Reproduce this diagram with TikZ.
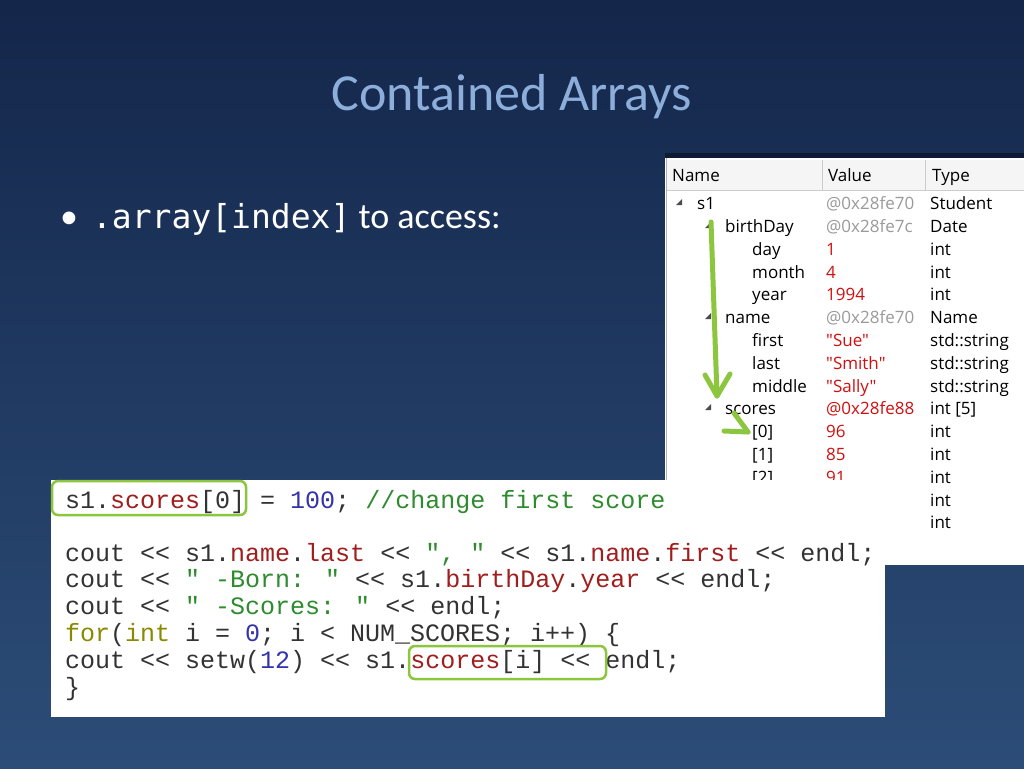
\documentclass[tikz,border=0pt]{standalone}
\usepackage{fontspec}
\setmainfont{Carlito}
\newfontfamily\dbgfont{Open Sans}
\newfontfamily\codefont{Liberation Mono}
\newfontfamily\consfont{DejaVu Sans Mono}
\definecolor{bgtop}{HTML}{14264A}
\definecolor{bgbot}{HTML}{2C4D78}
\definecolor{titleblue}{HTML}{8DAEDB}
\definecolor{hl}{HTML}{8CC63F}
\definecolor{mem}{HTML}{A01E1E}
\definecolor{num}{HTML}{3333AA}
\definecolor{str}{HTML}{2E8B2E}
\definecolor{kw}{HTML}{8A8A00}
\definecolor{ctext}{HTML}{333333}
\definecolor{addr}{HTML}{9A9A9A}
\definecolor{val}{HTML}{D01010}
\begin{document}
\begin{tikzpicture}[x=1pt,y=-1pt,
  dbg/.style={anchor=base west,inner sep=0,font=\dbgfont\fontsize{17}{17}\selectfont,text=black},
  code/.style={anchor=base west,inner sep=0,font=\codefont\fontsize{25}{25}\selectfont,text=ctext},
  hlbox/.style={draw=hl,line width=2.5pt,rounded corners=6pt},
  garrow/.style={draw=hl,line width=5pt,line cap=round,line join=round}]
\useasboundingbox (0,0) rectangle (1024,768);
\shade[top color=bgtop,bottom color=bgbot] (0,0) rectangle (1024,768);
\node[text=titleblue,font=\fontsize{52}{52}\selectfont] (title) at (512,97) {Contained Arrays};
\node[anchor=base west,text=white,font=\fontsize{36}{36}\selectfont,inner sep=0] (bullet) at (60,228) {\textbullet\hspace{14pt}{\consfont\fontsize{33}{33}\selectfont .array[index]} to access:};
% debugger panel
\fill[white] (665,153) rectangle (1024,565);
\fill[bgtop!70!black] (665,153) rectangle (1024,158);
\fill[gray!8] (667,160) rectangle (1024,190);
\draw[gray!40] (822,160) -- (822,190) (925,160) -- (925,190) (667,190) -- (1024,190);
\draw[gray!60] (666,158) -- (666,565);
\node[dbg] (hn) at (672,181) {Name};
\node[dbg] (hv) at (828,181) {Value};
\node[dbg] (ht) at (932,181) {Type};
\foreach \y/\tri/\n/\nx/\v/\vc/\t in {
  209/676/s1/697/@0x28fe70/addr/Student,
  232/705/birthDay/725/@0x28fe7c/addr/Date,
  255/0/day/752/1/val/int,
  278/0/month/752/4/val/int,
  300/0/year/752/1994/val/int,
  323/705/name/725/@0x28fe70/addr/Name,
  346/0/first/752/"Sue"/val/std::string,
  369/0/last/752/"Smith"/val/std::string,
  392/0/middle/752/"Sally"/val/std::string,
  414/705/scores/725/@0x28fe88/val/int [5],
  437/0/[0]/752/96/val/int,
  460/0/[1]/752/85/val/int,
  483/0/[2]/752/91/val/int,
  506/0//752//val/int,
  528/0//752//val/int}{
  \ifnum\tri>0 \fill[black!70] (\tri,\y-4) -- (\tri+6,\y-10) -- (\tri+6,\y-4) -- cycle; \fi
  \node[dbg] at (\nx,\y) {\n};
  \node[dbg,text=\vc] at (826,\y) {\v};
  \node[dbg] at (930,\y) {\t};
}
% green arrows
\coordinate (a1s) at (711,222);
\coordinate (a1e) at (717,396);
\draw[garrow] (a1s) -- (a1e);
\draw[garrow] (705,375) -- (a1e) -- (730,374);
\coordinate (a2s) at (724,431);
\coordinate (a2e) at (748,432);
\draw[garrow] (a2s) -- (a2e);
\draw[garrow] (734,413) -- (a2e);
% code box
\fill[white] (51,480) rectangle (885,717);
\node[code] (l1) at (65,508) {s1.\textcolor{mem}{scores}[0] = \textcolor{num}{100}; \textcolor{str}{//change first score}};
\node[code] (l2) at (65,561) {cout << s1.\textcolor{mem}{name}.\textcolor{mem}{last} << \textcolor{str}{", "} << s1.\textcolor{mem}{name}.\textcolor{mem}{first} << endl;};
\node[code] (l3) at (65,587) {cout << \textcolor{str}{"   -Born: "} << s1.\textcolor{mem}{birthDay}.\textcolor{mem}{year} << endl;};
\node[code] (l4) at (65,614) {cout << \textcolor{str}{"   -Scores: "} << endl;};
\node[code] (l5) at (65,641) {\textcolor{kw}{for}(\textcolor{kw}{int} i = \textcolor{num}{0}; i < NUM\_SCORES; i++) \{};
\node[code] (l6) at (65,668) {    cout << setw(\textcolor{num}{12}) << s1.\textcolor{mem}{scores}[i] << endl;};
\node[code] (l7) at (65,695) {\}};
\draw[hlbox] (52,481) rectangle (246,515);
\draw[hlbox] (409,646) rectangle (606,679);
\end{tikzpicture}
\end{document}
